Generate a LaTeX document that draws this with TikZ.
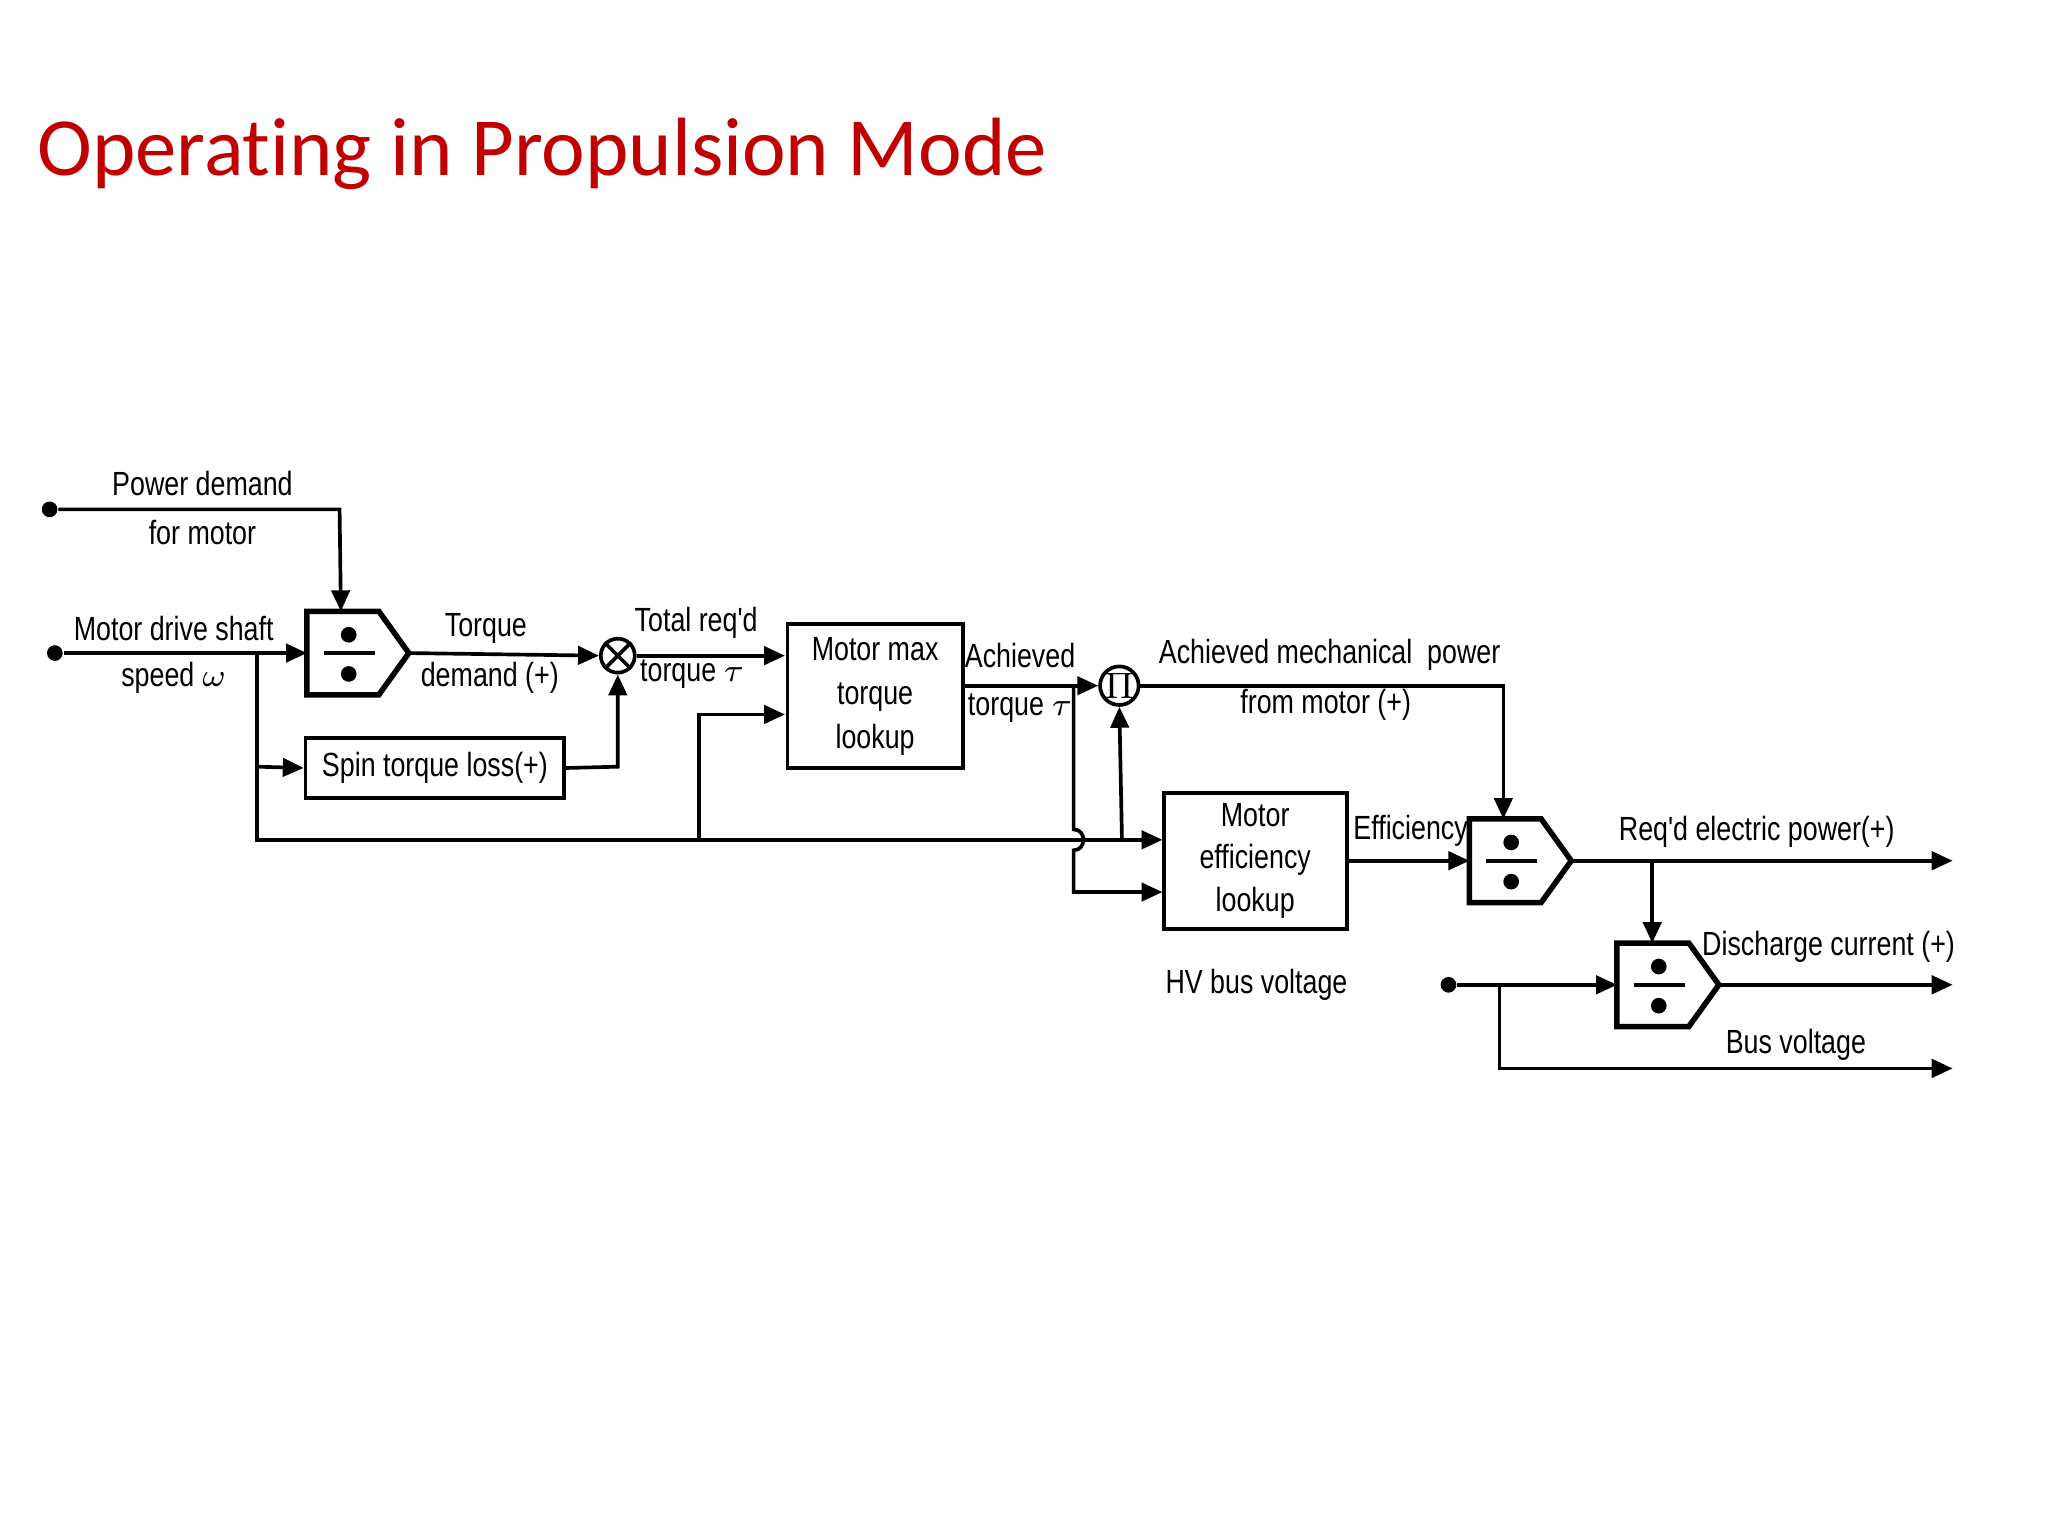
\documentclass[tikz,border=0pt]{standalone}
\usepackage{fontspec}
\setmainfont{Liberation Sans}
\newfontfamily\dg{Liberation Sans}[FakeStretch=0.80]
\newfontfamily\ttl{Carlito}[Ligatures=NoCommon]
\usetikzlibrary{arrows.meta}
\definecolor{ttlred}{RGB}{192,0,0}
\begin{document}
\begin{tikzpicture}[x=0.01cm,y=-0.01cm,
  ln/.style={line width=0.8pt},
  ar/.style={ln,-{Triangle[length=1.6mm,width=1.4mm]}},
  lbl/.style={font=\dg\fontsize{7.3}{9}\selectfont,inner sep=0pt},
  box/.style={draw,line width=0.8pt,inner sep=0pt},
  dot/.style={circle,fill,inner sep=0pt,minimum size=1.2mm}]
\useasboundingbox[fill=white] (0,0) rectangle (1568,1176);
\node[anchor=west,text=ttlred,font=\ttl\fontsize{18}{22}\selectfont,inner sep=0pt] (title) at (28,118) {Operating in Propulsion Mode};

\newcommand{\divblock}[3]{% name, x, ytop
  \draw[line width=1.2pt] (#2,#3) -- ++(55,0) -- ++(23,32) -- ++(-23,32) -- ++(-55,0) -- cycle;
  \fill (#2+32,#3+18) circle (6);
  \fill (#2+32,#3+48) circle (6);
  \draw[ln] (#2+13,#3+32) -- (#2+52,#3+32);
  \coordinate (#1-in) at (#2,#3+32);
  \coordinate (#1-out) at (#2+78,#3+32);
  \coordinate (#1-top) at (#2+26,#3);
}
\divblock{d1}{235}{468}
\divblock{d2}{1125}{627}
\divblock{d3}{1238}{722}

\node[dot] (p1) at (38,390) {};
\node[dot] (p2) at (42,500) {};
\node[dot] (p3) at (1109,754) {};
\node[lbl] (l1) at (155,370) {Power demand};
\node[lbl] (l2) at (155,408) {for motor};
\node[lbl] (l3) at (133,481) {Motor drive shaft};
\node[lbl] (l4) at (133,519) {speed $\omega$};
\node[lbl] (l5) at (372,481) {Torque};
\node[lbl] (l6) at (375,519) {demand (+)};
\node[lbl] (l7) at (533,477) {Total req'd};
\node[lbl] (l8) at (530,516) {torque $\tau$};
\node[lbl] (l9) at (781,502) {Achieved};
\node[lbl] (l10) at (781,542) {torque $\tau$};
\node[lbl] (l11) at (1018,501) {Achieved mechanical\ \ power};
\node[lbl] (l12) at (1015,540) {from motor (+)};
\node[lbl] (l13) at (1080,636) {Efficiency};
\node[lbl] (l14) at (1345,637) {Req'd electric power(+)};
\node[lbl] (l15) at (1400,725) {Discharge current (+)};
\node[lbl] (l16) at (1375,800) {Bus voltage};
\node[lbl] (l17) at (962,754) {HV bus voltage};

\node[circle,draw,line width=0.8pt,minimum size=0.26cm,inner sep=0pt] (mul) at (473,502) {};
\draw[ln] (mul.north west) -- (mul.south east) (mul.north east) -- (mul.south west);
\node[circle,draw,line width=0.8pt,minimum size=0.28cm,inner sep=0pt,font=\dg\fontsize{8}{9}\selectfont] (pi) at (857,525) {$\Pi$};

\node[box,minimum width=1.34cm,minimum height=1.10cm,align=center,lbl,draw,font=\dg\fontsize{7.3}{9.6}\selectfont] (mmt) at (670,533) {Motor max\\torque\\lookup};
\node[box,minimum width=1.98cm,minimum height=0.46cm,lbl,draw] (spin) at (333,588) {Spin torque loss(+)};
\node[box,minimum width=1.40cm,minimum height=1.04cm,align=center,lbl,draw,font=\dg\fontsize{7.3}{9.2}\selectfont] (eff) at (961,659) {Motor\\efficiency\\lookup};

\draw[ar] (p1) -- (260,390) -- (d1-top);
\draw[ar] (p2) -- (d1-in);
\draw[ar] (d1-out) -- (mul.west);
\draw[ar] (mul.east) -- (601,502);
\draw[ln] (197,500) -- (197,643) -- (822,643);
\draw[ar] (197,587) -- (spin.west);
\draw[ar] (spin.east) -- (473,587) -- (mul.south);
\draw[ar] (535,643) -- (535,547) -- (601,547);
\draw[ar] (822,643) -- (890,643);
\draw[ar] (mmt.east |- pi) -- (pi.west);
\draw[ar] (822,525) -- (822,635) .. controls (832,635) and (832,651) .. (822,651) -- (822,683) -- (890,683);
\draw[ar] (859,643) -- (pi.south);
\draw[ar] (pi.east) -- (1151,525) -- (1151,627);
\draw[ar] (eff.east |- d2-in) -- (d2-in);
\draw[ar] (d2-out) -- (1495,659);
\draw[ar] (1265,659) -- (1265,722);
\draw[ar] (p3) -- (d3-in);
\draw[ar] (1148,754) -- (1148,818) -- (1495,818);
\draw[ar] (d3-out) -- (1495,754);
\end{tikzpicture}
\end{document}
